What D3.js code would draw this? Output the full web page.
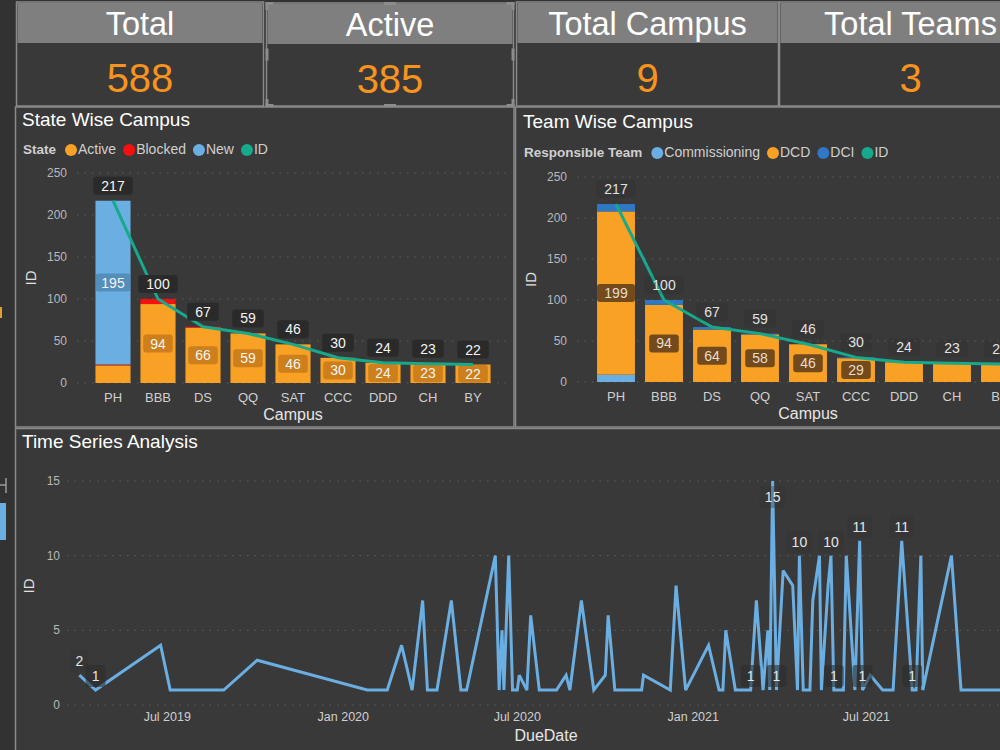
<!DOCTYPE html>
<html><head><meta charset="utf-8">
<script src="https://cdn.jsdelivr.net/npm/d3@7"></script>
<style>
html,body{margin:0;padding:0;background:#323232;overflow:hidden}
svg{display:block;font-family:"Liberation Sans",Arial,sans-serif}
</style></head><body>
<svg id="c" width="1000" height="750"></svg>
<script>
// ---------- DATA ----------
const kpiTitles = ["Total", "Active", "Total Campus", "Total Teams"];
const kpiValues = [588, 385, 9, 3];

const campuses = ["PH", "BBB", "DS", "QQ", "SAT", "CCC", "DDD", "CH", "BY"];
const idTotals = [217, 100, 67, 59, 46, 30, 24, 23, 22];

const stateKeys = ["Active", "Blocked", "New"];
const stateActive = [21, 94, 66, 59, 46, 30, 24, 23, 22];
const stateBlocked = [1, 6, 1, 0, 0, 0, 0, 0, 0];
const stateNew = [195, 0, 0, 0, 0, 0, 0, 0, 0];
const stateLabelled = { Active: ["BBB", "DS", "QQ", "SAT", "CCC", "DDD", "CH", "BY"], New: ["PH"] };

const teamKeys = ["Commissioning", "DCD", "DCI"];
const teamCommissioning = [9, 0, 0, 0, 0, 0, 0, 0, 0];
const teamDCD = [199, 94, 64, 58, 46, 29, 24, 23, 22];
const teamDCI = [9, 6, 3, 1, 0, 1, 0, 0, 0];
const teamLabelled = { DCD: ["PH", "BBB", "DS", "QQ", "SAT", "CCC"] };

const barTicks = [0, 50, 100, 150, 200, 250];

const tsDates = ["2019-03-31","2019-04-17","2019-06-24","2019-07-04","2019-08-29","2019-10-03",
"2020-01-26","2020-02-16","2020-03-02","2020-03-13","2020-03-24","2020-03-29","2020-04-08","2020-04-23",
"2020-05-03","2020-05-09","2020-06-08","2020-06-12","2020-06-15","2020-06-17","2020-06-22","2020-06-26",
"2020-07-01","2020-07-03","2020-07-11","2020-07-15","2020-07-24","2020-08-11","2020-08-21","2020-08-25",
"2020-09-06","2020-09-19","2020-10-01","2020-10-04","2020-10-11","2020-11-08","2020-11-10","2020-12-08",
"2020-12-14","2020-12-24","2021-01-17","2021-01-28","2021-02-01","2021-02-04","2021-02-14","2021-03-02",
"2021-03-08","2021-03-15","2021-03-20","2021-03-22","2021-03-25","2021-03-29","2021-04-05","2021-04-15",
"2021-04-20","2021-04-22","2021-04-26","2021-05-03","2021-05-06","2021-05-13","2021-05-15","2021-05-22",
"2021-05-25","2021-05-28","2021-06-07","2021-06-10","2021-06-19","2021-06-24","2021-06-27","2021-07-05",
"2021-07-18","2021-07-29","2021-08-07","2021-08-18","2021-08-22","2021-08-27","2021-08-29","2021-09-28",
"2021-10-08","2021-12-10"];
const tsValues = [2,1,4,1,1,3,
1,1,4,1,7,1,1,7,
1,1,10,1,5,1,10,1,
1,2,1,6,1,1,2,1,
7,1,2,6,1,1,2,1,
8,1,4,1,1,5,1,1,
7,1,5,1,15,1,9,8,
1,10,1,1,7,10,1,8,
10,1,1,10,1,11,1,2,
1,1,11,1,1,10,1,10,
1,1];
const tsLabelDates = ["2019-03-31","2019-04-17","2021-03-25","2021-03-29","2021-04-22","2021-05-25",
"2021-05-28","2021-06-24","2021-06-27","2021-08-07","2021-08-18","2021-03-02"];
const tsTicks = ["2019-07-01", "2020-01-01", "2020-07-01", "2021-01-01", "2021-07-01"];
const tsYTicks = [0, 5, 10, 15];

// ---------- STYLE ----------
const C = {
  panel: "#393939", border: "#8a8a8a", header: "#7f7f7f",
  orange: "#f9a125", red: "#f50f0f", lightBlue: "#6aaee2", blue: "#2f78c6", teal: "#17a98b",
  kpiValue: "#f7931e", grid: "#5e5e5e", tick: "#b8b8b8", label: "#cfcfcf"
};
const svg = d3.select("#c");
const parse = d3.timeParse("%Y-%m-%d");

// ---------- PANELS ----------
function panel(x, y, w, h) {
  svg.append("rect").attr("x", x).attr("y", y).attr("width", w).attr("height", h)
    .attr("fill", C.panel).attr("stroke", C.border).attr("stroke-width", 1.5);
}
// left strip decorations
svg.append("rect").attr("x", 0).attr("y", 0).attr("width", 15).attr("height", 750).attr("fill", "#323232");
svg.append("rect").attr("x", 0).attr("y", 307).attr("width", 2).attr("height", 11).attr("fill", "#e0a030");
svg.append("path").attr("d", "M0,485H6M6,478V493").attr("stroke", "#9a9a9a").attr("stroke-width", 1.5).attr("fill", "none");
svg.append("rect").attr("x", 0).attr("y", 503).attr("width", 6).attr("height", 37).attr("fill", C.lightBlue);

// KPI cards
const cards = [
  { x: 16.5, y: 2, w: 247, h: 104 },
  { x: 266.5, y: 3, w: 247, h: 103 },
  { x: 516.5, y: 2, w: 262, h: 104 },
  { x: 779.5, y: 2, w: 250, h: 104 }
];
cards.forEach((c, i) => {
  panel(c.x, c.y, c.w, c.h);
  svg.append("rect").attr("x", c.x + 1).attr("y", c.y + 1).attr("width", c.w - 2).attr("height", 40)
    .attr("fill", C.header);
  const cx = c.x + (i === 3 ? 131 : c.w / 2);
  svg.append("text").attr("x", cx).attr("y", c.y + 22).attr("text-anchor", "middle")
    .attr("dominant-baseline", "central").attr("font-size", 32.5).attr("fill", "#ffffff").text(kpiTitles[i]);
  svg.append("text").attr("x", cx).attr("y", c.y + 76).attr("text-anchor", "middle")
    .attr("dominant-baseline", "central").attr("font-size", 40).attr("fill", C.kpiValue).text(kpiValues[i]);
});
// selection handles on "Active" card
(function () {
  const c = cards[1], g = svg.append("g").attr("fill", "#8c8c8c");
  const L = 8, T = 3;
  [[c.x - 1, c.y - 1, 1, 1], [c.x + c.w + 1, c.y - 1, -1, 1], [c.x - 1, c.y + c.h + 1, 1, -1], [c.x + c.w + 1, c.y + c.h + 1, -1, -1]]
    .forEach(([x, y, sx, sy]) => {
      g.append("rect").attr("x", sx > 0 ? x : x - L).attr("y", sy > 0 ? y : y - T).attr("width", L).attr("height", T);
      g.append("rect").attr("x", sx > 0 ? x : x - T).attr("y", sy > 0 ? y : y - L).attr("width", T).attr("height", L);
    });
  g.append("rect").attr("x", c.x + c.w / 2 - 6).attr("y", c.y - 1).attr("width", 12).attr("height", T);
  g.append("rect").attr("x", c.x + c.w / 2 - 6).attr("y", c.y + c.h - 2).attr("width", 12).attr("height", T);
  g.append("rect").attr("x", c.x - 1).attr("y", c.y + c.h / 2 - 6).attr("width", T).attr("height", 12);
  g.append("rect").attr("x", c.x + c.w - 2).attr("y", c.y + c.h / 2 - 6).attr("width", T).attr("height", 12);
})();

panel(15.5, 107, 498.5, 320);
panel(515.5, 107, 500, 320);
panel(15.5, 428.5, 1000, 330);

// ---------- HELPERS ----------
function boxLabel(g, x, y, txt, o) {
  const gg = g.append("g");
  const t = gg.append("text").attr("x", x).attr("y", y).attr("text-anchor", "middle")
    .attr("dominant-baseline", "central").attr("font-size", o.size || 13).attr("fill", o.color).text(txt);
  const w = t.node().getComputedTextLength();
  if (o.bg) {
    const bw = o.fixedW || (w + (o.padX || 16));
    gg.insert("rect", "text").attr("x", x - bw / 2).attr("y", y - (o.h || 18) / 2)
      .attr("width", bw).attr("height", o.h || 18).attr("rx", 3).attr("fill", o.bg);
  }
  return gg;
}
function legend(x, y, title, items) {
  const g = svg.append("g");
  const t = g.append("text").attr("x", x).attr("y", y).attr("dominant-baseline", "central")
    .attr("font-size", 13.5).attr("font-weight", "bold").attr("fill", "#cfcfcf").text(title);
  let cx = x + t.node().getComputedTextLength() + 15;
  items.forEach(it => {
    g.append("circle").attr("cx", cx).attr("cy", y + 1).attr("r", 6).attr("fill", it.color);
    const tt = g.append("text").attr("x", cx + 7).attr("y", y).attr("dominant-baseline", "central")
      .attr("font-size", 14).attr("fill", C.label).text(it.name);
    cx = cx + 7 + tt.node().getComputedTextLength() + 13;
  });
}

// ---------- BAR + LINE PANELS ----------
function barPanel(o) {
  const rows = campuses.map((c, i) => {
    const r = { campus: c, total: idTotals[i] };
    o.keys.forEach((k, j) => r[k] = o.series[j][i]);
    return r;
  });
  const x = d3.scaleBand().domain(campuses).range(o.xRange).paddingInner(o.pad).paddingOuter(o.pad / 2);
  const y = d3.scaleLinear().domain([0, 250]).range(o.yRange);
  const g = svg.append("g");
  // title
  g.append("text").attr("x", o.titleX).attr("y", o.titleY).attr("dominant-baseline", "central")
    .attr("font-size", 19).attr("fill", "#ffffff").text(o.title);
  legend(o.titleX + 1, o.legendY, o.legendTitle, o.keys.map((k, j) => ({ name: k, color: o.colors[j] })).concat([{ name: "ID", color: C.teal }]));
  // grid + y ticks
  barTicks.forEach(t => {
    g.append("line").attr("x1", o.gridX[0]).attr("x2", o.gridX[1]).attr("y1", y(t)).attr("y2", y(t))
      .attr("stroke", C.grid).attr("stroke-width", 1).attr("stroke-dasharray", "1.5,6");
    g.append("text").attr("x", o.tickX).attr("y", y(t)).attr("text-anchor", "end").attr("dominant-baseline", "central")
      .attr("font-size", 12).attr("fill", C.tick).text(t);
  });
  // y title
  g.append("text").attr("transform", `translate(${o.yTitleX},${(o.yRange[0] + o.yRange[1]) / 2}) rotate(-90)`)
    .attr("text-anchor", "middle").attr("dominant-baseline", "central").attr("font-size", 15).attr("fill", "#e0e0e0").text("ID");
  // bars
  const stack = d3.stack().keys(o.keys)(rows);
  stack.forEach((s, j) => {
    g.append("g").selectAll("rect").data(s).join("rect")
      .attr("x", d => x(d.data.campus)).attr("width", x.bandwidth())
      .attr("y", d => y(d[1])).attr("height", d => Math.max(0, y(d[0]) - y(d[1])))
      .attr("fill", o.colors[j]);
  });
  // inner labels
  stack.forEach((s, j) => {
    const list = o.labelled[s.key];
    if (!list) return;
    s.filter(d => list.includes(d.data.campus)).forEach(d => {
      const cx = x(d.data.campus) + x.bandwidth() / 2;
      boxLabel(g, cx, y((d[0] + d[1]) / 2), d[1] - d[0], {
        color: o.innerText, bg: o.innerBg[s.key], size: 14, padX: 14,
        fixedW: (d[1] - d[0]) > 150 ? x.bandwidth() : null
      });
    });
  });
  // ID line
  const line = d3.line().x(d => x(d.campus) + x.bandwidth() / 2).y(d => y(d.total));
  g.append("path").datum(rows).attr("d", line).attr("fill", "none").attr("stroke", C.teal)
    .attr("stroke-width", 3).attr("stroke-linejoin", "round");
  // total labels
  rows.forEach(r => {
    boxLabel(g, x(r.campus) + x.bandwidth() / 2, y(r.total) - 15, r.total, {
      color: o.totalText, bg: o.totalBg, size: 14, padX: 16
    });
  });
  // x labels
  campuses.forEach(c => {
    g.append("text").attr("x", x(c) + x.bandwidth() / 2).attr("y", o.yRange[0] + 14)
      .attr("text-anchor", "middle").attr("dominant-baseline", "central").attr("font-size", 13).attr("fill", C.label).text(c);
  });
  g.append("text").attr("x", o.xTitleX).attr("y", o.yRange[0] + 31).attr("text-anchor", "middle")
    .attr("dominant-baseline", "central").attr("font-size", 16).attr("fill", "#e6e6e6").text("Campus");
}

barPanel({
  title: "State Wise Campus", titleX: 22, titleY: 119, legendTitle: "State", legendY: 149,
  keys: stateKeys, series: [stateActive, stateBlocked, stateNew], colors: [C.orange, C.red, C.lightBlue],
  xRange: [90.5, 495.5], pad: 0.22, yRange: [383, 173], gridX: [77, 510], tickX: 67, yTitleX: 30, xTitleX: 293,
  labelled: stateLabelled, innerBg: { Active: "rgba(170,100,20,0.55)", New: "rgba(70,120,160,0.6)" },
  innerText: "#f4f4f4", totalBg: "#2a2a2a", totalText: "#f4f4f4"
});
barPanel({
  title: "Team Wise Campus", titleX: 523, titleY: 121, legendTitle: "Responsible Team", legendY: 152,
  keys: teamKeys, series: [teamCommissioning, teamDCD, teamDCI], colors: [C.lightBlue, C.orange, C.blue],
  xRange: [592, 1024], pad: 0.21, yRange: [382, 177], gridX: [577, 1015], tickX: 567, yTitleX: 530, xTitleX: 808,
  labelled: teamLabelled, innerBg: { DCD: "rgba(75,50,25,0.78)" },
  innerText: "#e9dccb", totalBg: "rgba(0,0,0,0.06)", totalText: "#e2e2e2"
});

// ---------- TIME SERIES ----------
(function () {
  const g = svg.append("g");
  const pts = tsDates.map((d, i) => ({ date: parse(d), key: d, value: tsValues[i] }));
  const x = d3.scaleTime().domain([parse("2019-03-16"), parse("2021-12-16")]).range([65, 1027]);
  const y = d3.scaleLinear().domain([0, 15]).range([705, 481]);
  g.append("text").attr("x", 22).attr("y", 441).attr("dominant-baseline", "central")
    .attr("font-size", 19).attr("fill", "#ffffff").text("Time Series Analysis");
  tsYTicks.forEach(t => {
    g.append("line").attr("x1", 67).attr("x2", 1015).attr("y1", y(t)).attr("y2", y(t))
      .attr("stroke", C.grid).attr("stroke-width", 1).attr("stroke-dasharray", "1.5,6");
    g.append("text").attr("x", 60).attr("y", y(t)).attr("text-anchor", "end").attr("dominant-baseline", "central")
      .attr("font-size", 12).attr("fill", C.tick).text(t);
  });
  g.append("text").attr("transform", `translate(28,586) rotate(-90)`).attr("text-anchor", "middle")
    .attr("dominant-baseline", "central").attr("font-size", 15).attr("fill", "#e0e0e0").text("ID");
  const fmt = d3.timeFormat("%b %Y");
  tsTicks.forEach(t => {
    g.append("text").attr("x", x(parse(t))).attr("y", 717).attr("text-anchor", "middle")
      .attr("dominant-baseline", "central").attr("font-size", 12.5).attr("fill", C.label).text(fmt(parse(t)));
  });
  g.append("text").attr("x", 546).attr("y", 735).attr("text-anchor", "middle").attr("dominant-baseline", "central")
    .attr("font-size", 16).attr("fill", "#e6e6e6").text("DueDate");
  const line = d3.line().x(d => x(d.date)).y(d => y(d.value));
  g.append("path").datum(pts).attr("d", line).attr("fill", "none").attr("stroke", C.lightBlue)
    .attr("stroke-width", 3).attr("stroke-linejoin", "miter").attr("stroke-miterlimit", 3);
  pts.filter(p => tsLabelDates.includes(p.key)).forEach(p => {
    const py = y(p.value);
    const ly = py - 14 < y(15) ? py + 16 : py - 14;
    boxLabel(g, x(p.date), ly, p.value, {
      color: "#e6e6e6", bg: p.value === 1 ? "rgba(45,45,45,0.6)" : "rgba(50,50,50,0.35)",
      size: 14, padX: p.value === 1 ? 12 : 10, h: 22
    });
  });
})();
</script>
</body></html>
